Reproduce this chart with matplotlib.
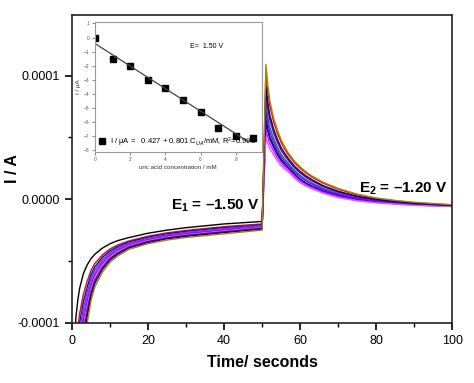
import numpy as np
import matplotlib
matplotlib.use("Agg")
import matplotlib.pyplot as plt

plt.rcParams['font.family'] = ['Liberation Sans', 'DejaVu Sans']
plt.rcParams['mathtext.fontset'] = 'custom'
plt.rcParams['mathtext.rm'] = 'Liberation Sans'
plt.rcParams['mathtext.it'] = 'Liberation Sans:italic'
plt.rcParams['mathtext.bf'] = 'Liberation Sans:bold'

# Cronoamperogramas (corriente en unidades de 1e-5 A)
t_paso1 = [0.5, 1, 1.5, 2, 3, 4, 5, 6, 8, 10, 12, 15, 20, 25, 30, 35, 40, 45, 50]
t_paso2 = [51, 51.5, 52, 53, 54, 55, 56, 57, 58.5, 60, 61.5, 63, 66, 70, 75, 80, 85, 90, 95, 100]

i_paso1 = [
    [-13.0, -9.6, -8.2, -7.2, -6.0, -5.3, -4.8, -4.45, -3.95, -3.6, -3.35, -3.1, -2.75, -2.5, -2.3, -2.15, -2.0, -1.9, -1.8],
    [-15.0, -11.95, -10.38, -9.24, -7.68, -6.62, -5.75, -5.19, -4.5, -4.02, -3.7, -3.37, -2.99, -2.72, -2.52, -2.37, -2.22, -2.11, -2.0],
    [-15.7, -12.79, -11.16, -9.97, -8.28, -7.09, -6.09, -5.46, -4.69, -4.17, -3.83, -3.46, -3.07, -2.8, -2.6, -2.45, -2.3, -2.19, -2.07],
    [-16.3, -13.55, -11.87, -10.63, -8.82, -7.51, -6.4, -5.7, -4.87, -4.31, -3.94, -3.55, -3.15, -2.88, -2.68, -2.53, -2.38, -2.25, -2.13],
    [-16.9, -14.22, -12.49, -11.22, -9.3, -7.89, -6.67, -5.91, -5.02, -4.43, -4.04, -3.62, -3.22, -2.94, -2.74, -2.59, -2.44, -2.31, -2.19],
    [-17.4, -14.89, -13.11, -11.8, -9.78, -8.26, -6.94, -6.12, -5.18, -4.55, -4.14, -3.7, -3.29, -3.0, -2.8, -2.65, -2.5, -2.37, -2.24],
    [-18.0, -15.56, -13.74, -12.38, -10.26, -8.64, -7.21, -6.33, -5.33, -4.67, -4.24, -3.77, -3.35, -3.07, -2.87, -2.72, -2.57, -2.43, -2.3],
    [-18.5, -16.24, -14.36, -12.97, -10.74, -9.01, -7.49, -6.54, -5.49, -4.79, -4.34, -3.85, -3.42, -3.13, -2.93, -2.78, -2.63, -2.49, -2.35],
    [-19.2, -16.99, -15.06, -13.62, -11.28, -9.44, -7.79, -6.78, -5.67, -4.92, -4.45, -3.94, -3.5, -3.2, -3.0, -2.85, -2.7, -2.56, -2.42],
    [-20.0, -18.0, -16.0, -14.5, -12.0, -10.0, -8.2, -7.1, -5.9, -5.1, -4.6, -4.05, -3.6, -3.3, -3.1, -2.95, -2.8, -2.65, -2.5],
]

i_paso2 = [
    [6.47, 5.67, 5.07, 4.35, 3.72, 3.22, 2.86, 2.55, 2.05, 1.62, 1.32, 1.08, 0.68, 0.31, 0.0, -0.2, -0.33, -0.44, -0.5, -0.56],
    [10.31, 8.73, 7.61, 6.3, 5.35, 4.59, 4.02, 3.55, 2.95, 2.5, 2.12, 1.8, 1.3, 0.8, 0.36, 0.06, -0.13, -0.28, -0.37, -0.47],
    [6.18, 5.44, 4.88, 4.2, 3.6, 3.12, 2.77, 2.48, 1.99, 1.57, 1.27, 1.04, 0.64, 0.28, -0.03, -0.22, -0.34, -0.45, -0.51, -0.57],
    [7.65, 6.61, 5.85, 4.95, 4.22, 3.64, 3.22, 2.87, 2.34, 1.92, 1.6, 1.33, 0.88, 0.46, 0.11, -0.12, -0.27, -0.39, -0.46, -0.53],
    [5.59, 4.97, 4.49, 3.9, 3.35, 2.91, 2.6, 2.33, 1.85, 1.45, 1.17, 0.95, 0.56, 0.2, -0.09, -0.26, -0.37, -0.48, -0.53, -0.59],
    [7.06, 6.14, 5.46, 4.65, 3.97, 3.43, 3.04, 2.72, 2.2, 1.79, 1.48, 1.23, 0.79, 0.39, 0.06, -0.16, -0.3, -0.41, -0.48, -0.55],
    [5.0, 4.5, 4.1, 3.6, 3.1, 2.7, 2.42, 2.18, 1.7, 1.32, 1.06, 0.85, 0.48, 0.13, -0.14, -0.3, -0.4, -0.5, -0.55, -0.6],
    [8.54, 7.32, 6.44, 5.4, 4.6, 3.96, 3.5, 3.1, 2.55, 2.12, 1.78, 1.5, 1.02, 0.57, 0.19, -0.06, -0.22, -0.35, -0.43, -0.51],
    [9.13, 7.79, 6.83, 5.7, 4.85, 4.17, 3.68, 3.25, 2.68, 2.25, 1.89, 1.6, 1.1, 0.64, 0.24, -0.02, -0.19, -0.33, -0.41, -0.5],
    [10.9, 9.2, 8.0, 6.6, 5.6, 4.8, 4.2, 3.7, 3.08, 2.62, 2.22, 1.9, 1.38, 0.87, 0.41, 0.1, -0.1, -0.25, -0.35, -0.45],
]

colores = ['black', 'red', 'blue', '#008060', 'magenta', '#8000ff',
           '#cc66ff', '#800080', '#000080', '#a08800']

# Recta de calibración (inserto)
conc = [0, 1, 2, 3, 4, 5, 6, 7, 8, 9]
corriente = [0.0, -1.51, -2.03, -3.0, -3.6, -4.42, -5.3, -6.43, -7.0, -7.11]
intercepto = -0.427
pendiente = -0.801
x_ajuste = [-0.03, 8.7]

fig = plt.figure(figsize=(4.74, 3.83), dpi=100)
ax = fig.add_axes([0.152, 0.157, 0.802, 0.804])

for k in range(len(i_paso1)):
    t = np.array(t_paso1 + t_paso2)
    i = np.array(i_paso1[k] + i_paso2[k]) * 1e-5
    ax.plot(t, i, color=colores[k], lw=1.0)

ax.set_xlim(0, 100)
ax.set_ylim(-1e-4, 1.49e-4)
ax.set_xticks([0, 20, 40, 60, 80, 100])
ax.set_xticks(np.arange(0, 101, 10), minor=True)
ax.set_yticks([-1e-4, 0, 1e-4])
ax.set_yticklabels(['-0.0001', '0.0000', '0.0001'])
ax.set_yticks([-1e-4, -5e-5, 0, 5e-5, 1e-4], minor=True)
ax.tick_params(which='major', direction='out', length=5, width=1.2, labelsize=9)
ax.tick_params(which='minor', direction='out', length=3, width=1.0)
for s in ax.spines.values():
    s.set_linewidth(1.2)
    s.set_color('#222222')

ax.set_xlabel('Time/ seconds', fontsize=11.5, fontweight='bold', labelpad=6)
ax.set_ylabel('I / A', fontsize=11.5, fontweight='bold')
ax.yaxis.set_label_coords(-0.137, 0.5)

ax.text(49.3, -0.55e-5, r'E$_\mathbf{1}$ = –1.50 V', fontsize=11, fontweight='bold',
        ha='right', va='center')
ax.text(98.7, 0.85e-5, r'E$_\mathbf{2}$ = –1.20 V', fontsize=11, fontweight='bold',
        ha='right', va='center')

# Inserto
axi = fig.add_axes([0.1994, 0.603, 0.3534, 0.3394])
axi.plot(conc, corriente, 's', color='black', ms=4,
         label=r'I / μA =   0.427 + 0.801 C$_{UA}$/mM, R$^2$=0.993')
x_ajuste = np.array(x_ajuste)
axi.plot(x_ajuste, intercepto + pendiente * x_ajuste, color='#444444', lw=0.9)
axi.set_xlim(-0.03, 9.5)
axi.set_ylim(-8.14, 1.1)
axi.set_xticks([0, 2, 4, 6, 8])
axi.set_yticks([1, 0, -1, -2, -3, -4, -5, -6, -7, -8])
axi.tick_params(direction='out', length=2, width=0.5, labelsize=3.5, pad=1.5,
                colors='#555555')
for s in axi.spines.values():
    s.set_linewidth(0.8)
    s.set_color('#999999')
axi.set_xlabel('uric acid concentration / mM', fontsize=4.5, labelpad=2, color='#333333')
axi.set_ylabel('I / μA', fontsize=4.5, labelpad=2, color='#333333')
axi.text(5.4, -0.65, 'E=  1.50 V', fontsize=5, ha='left', va='center')
axi.legend(loc='lower left', frameon=False, fontsize=5.5, handlelength=1.0,
           handletextpad=0.6, borderaxespad=0.05, markerscale=1.0)

fig.savefig('out.png', dpi=100)
